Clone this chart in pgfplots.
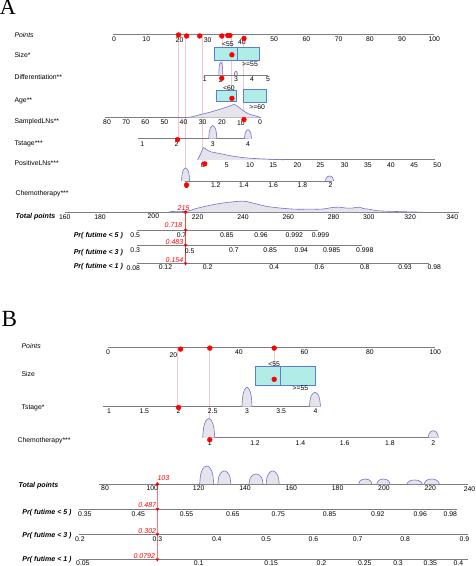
\documentclass[border=0pt]{standalone}
\usepackage{pgfplots}
\pgfplotsset{compat=1.18}
\usepackage{fontspec}
\setmainfont{Liberation Sans}
\newfontfamily\seriffont{Liberation Serif}
\definecolor{axgray}{RGB}{125,125,125}
\definecolor{dens}{RGB}{115,115,210}
\definecolor{densfill}{RGB}{228,228,234}
\definecolor{boxfill}{RGB}{178,236,230}
\definecolor{boxline}{RGB}{90,125,215}
\definecolor{pinkline}{RGB}{240,200,205}
\tikzset{
  tk/.style={font=\fontsize{6.8}{7}\selectfont, inner sep=0pt, anchor=center},
  axl/.style={axgray, line width=0.8pt},
  dn/.style={draw=dens, fill=densfill, line width=0.6pt, smooth},
  bx/.style={draw=boxline, fill=boxfill, line width=0.7pt},
  pl/.style={pinkline, line width=0.5pt},
}
\pgfplotsset{
  rd/.style={only marks, mark=*, mark size=2.4pt, red, mark options={draw=red, fill=red}},
  rt/.style={only marks, mark=triangle*, mark size=1.6pt, red, mark options={rotate=180, fill=red}},
}
\newcommand\TK[3]{\node[tk] at (axis cs:#1,#2) {#3};}
\newcommand\LB[3]{\node[tk,anchor=west] at (axis cs:#1,#2) {#3};}
\newcommand\RB[3]{\node[tk,anchor=east,font=\fontsize{7}{8}\selectfont\bfseries\itshape] at (axis cs:#1,#2) {#3};}
\newcommand\RT[3]{\node[tk,text=red,font=\fontsize{7}{8}\selectfont\itshape] at (axis cs:#1,#2) {#3};}
\begin{document}
\begin{tikzpicture}
\begin{axis}[scale only axis, width=474pt, height=566pt,
  xmin=0, xmax=474, ymin=0, ymax=566, y dir=reverse, hide axis, clip=false]
% ================= Panel A =================
\node[font=\seriffont\fontsize{22}{22}\selectfont, inner sep=0pt, anchor=base west] at (axis cs:0.5,17.8) {A};
\addplot[pl] coordinates {(178,38)(178,142)};
\addplot[pl] coordinates {(185,38)(185,187)};
\addplot[pl] coordinates {(202,38)(202,166)};
\addplot[pl] coordinates {(242,38)(242,122)};
\addplot[pl] coordinates {(221,38)(221,81)};
\addplot[pl] coordinates {(230,38)(230,101)};
\addplot[axl] coordinates {(113,37.7)(432,37.7)};
\addplot[axl] coordinates {(203,77.7)(267,77.7)};
\addplot[axl] coordinates {(105,120)(260,120)};
\addplot[axl] coordinates {(138,141)(248,141)};
\addplot[axl] coordinates {(200,162)(433,162)};
\addplot[axl] coordinates {(184,183)(330,183)};
\addplot[axl] coordinates {(65,214)(457,214)};
\addplot[axl] coordinates {(137,232)(317,232)};
\addplot[axl] coordinates {(137,247)(360,247)};
\addplot[axl] coordinates {(137,265)(427,265)};
\addplot[bx] coordinates {(214,50.7)(236,50.7)(236,63.3)(214,63.3)} -- cycle;
\addplot[bx] coordinates {(236,50.7)(258,50.7)(258,63.3)(236,63.3)} -- cycle;
\addplot[bx] coordinates {(216,93)(235,93)(235,104)(216,104)} -- cycle;
\addplot[bx] coordinates {(242,92)(265,92)(265,105)(242,105)} -- cycle;
\addplot[dn] coordinates {(218,77.7)(218.3,70.7)(219,66.6)(220,65)(221,66.6)(221.7,70.7)(222,77.7)};
\addplot[dn] coordinates {(233.5,77.7)(233.7,75.7)(234.25,74.5)(235,74)(235.75,74.5)(236.3,75.7)(236.5,77.7)};
\addplot[dn] coordinates {(183,120)(190,119.5)(200,117)(210,114.5)(220,111.5)(228,109)(233,107)(237,109)(242,113)(248,116.5)(255,118.5)(260,120)};
\addplot[dn] coordinates {(208,141)(208.6,133.85)(210,129.7)(212,128)(214,129.7)(215.4,133.85)(216,141)};
\addplot[dn] coordinates {(243.5,141)(244.1,136.05)(245.25,133.2)(247,132)(248.75,133.2)(249.9,136.05)(250.5,141)};
\addplot[dn] coordinates {(197,162)(200,156)(203,150)(206,152)(210,154)(215,155)(220,156)(230,158)(240,159.5)(250,160.5)(265,161.3)(283,162)};
\addplot[dn] coordinates {(181,183)(181.6,175.85)(183,171.7)(185,170)(187,171.7)(188.4,175.85)(189,183)};
\addplot[dn] coordinates {(324,183)(324.6,180.25)(326,178.65)(328,178)(330,178.65)(331.4,180.25)(332,183)};
\addplot[dn] coordinates {(168,214)(172,213.3)(176,213.5)(187,213)(195,210.5)(210,207)(225,204.5)(242,203)(250,204.5)(260,207)(267,208.5)(280,210)(293,211)(310,211)(320,211)(330,209.5)(337,209)(345,210)(350,210)(357,209)(362,210.5)(367,211)(375,212.5)(385,213)(400,213.5)(420,214)};
\addplot[red!75, line width=0.6pt] coordinates {(185,214)(185,265)};
\addplot[rd] coordinates {(178,38)(186,39)(199,39)(221,39)(227,38.5)(229,38.5)(243,41.5)};
\addplot[rd] coordinates {(231,57.7)(221,81)(231,101)(243,122)(177,142)(204,166)(186,187)};
\addplot[rd, mark size=1.6pt] coordinates {(185,214)};
\addplot[rt] coordinates {(185,232)(185,247)(185,265)};
\node[tk,anchor=west,font=\fontsize{6.8}{7}\selectfont\itshape] at (axis cs:15,38) {Points};
\LB{15}{57.7}{Size*}
\LB{15}{80}{Differentiation**}
\LB{15}{103}{Age**}
\LB{15}{124}{SampledLNs**}
\LB{15}{146}{Tstage***}
\LB{15}{165}{PositiveLNs***}
\LB{16}{196}{Chemotherapy***}
\node[tk,anchor=west,font=\fontsize{7}{8}\selectfont\bfseries\itshape] at (axis cs:16,218) {Total points};
\RB{123}{237}{Pr( futime < 5 )}
\RB{123}{254}{Pr( futime < 3 )}
\RB{123}{268}{Pr( futime < 1 )}
\TK{114}{42.5}{0}\TK{146}{42.5}{10}\TK{179}{43.5}{20}\TK{207}{43}{30}\TK{241}{45.5}{40}
\TK{273}{42.5}{50}\TK{305}{42.5}{60}\TK{337}{42.5}{70}\TK{368}{42.5}{80}\TK{400}{42.5}{90}\TK{432}{42.5}{100}
\TK{227}{47.5}{<55}\TK{249}{67}{>=55}
\TK{204}{82}{1}\TK{220}{83}{2}\TK{235}{82}{3}\TK{251}{82}{4}\TK{267}{82}{5}
\TK{228}{90.5}{<60}\TK{256}{109.5}{>=60}
\TK{107}{125}{80}\TK{126}{125}{70}\TK{145}{125}{60}\TK{164}{125}{50}\TK{183}{125}{40}
\TK{202}{125}{30}\TK{221}{125}{20}\TK{240}{125.5}{10}\TK{259}{125}{0}
\TK{142}{146}{1}\TK{176}{146}{2}\TK{212}{146}{3}\TK{247}{146}{4}
\TK{202}{167.5}{0}\TK{226}{167}{5}\TK{249}{167}{10}\TK{272}{167}{15}\TK{296}{167}{20}\TK{319}{167}{25}
\TK{343}{167}{30}\TK{366}{167}{35}\TK{389}{167}{40}\TK{412}{167}{45}\TK{435}{167}{50}
\TK{186}{188}{1}\TK{215}{187.5}{1.2}\TK{243}{187.5}{1.4}\TK{272}{187.5}{1.6}\TK{301}{187.5}{1.8}\TK{329}{187.5}{2}
\TK{65}{218.5}{160}\TK{100}{218.5}{180}\TK{153}{218}{200}\TK{197}{218.5}{220}\TK{242}{218.5}{240}
\TK{287}{218.5}{260}\TK{332}{218.5}{280}\TK{367}{218.5}{300}\TK{408}{218.5}{320}\TK{450}{218.5}{340}
\TK{135}{237}{0.5}\TK{181}{237}{0.7}\TK{226}{236.5}{0.85}\TK{260}{236.5}{0.96}\TK{293}{236.5}{0.992}\TK{319}{236.5}{0.999}
\TK{135}{252}{0.3}\TK{189}{252.5}{0.5}\TK{233}{252}{0.7}\TK{269}{252}{0.85}\TK{300}{252}{0.94}\TK{330}{252}{0.985}\TK{363}{252}{0.998}
\TK{133}{269.5}{0.08}\TK{165}{269}{0.12}\TK{207}{269}{0.2}\TK{273}{269}{0.4}\TK{318}{269}{0.6}\TK{363}{269}{0.8}\TK{403}{269}{0.93}\TK{432}{269}{0.98}
\RT{183}{210}{215}\RT{173}{226.5}{0.718}\RT{174}{244}{0.483}\RT{174}{261.5}{0.154}
% ================= Panel B =================
\node[font=\seriffont\fontsize{23}{23}\selectfont, inner sep=0pt, anchor=base west] at (axis cs:2,328) {B};
\addplot[pl] coordinates {(177,348)(177,408)};
\addplot[pl] coordinates {(209,349)(209,440)};
\addplot[pl] coordinates {(273,349)(273,380)};
\addplot[axl] coordinates {(108,348)(433,348)};
\addplot[axl] coordinates {(103,407)(319,407)};
\addplot[axl] coordinates {(208,438)(435,438)};
\addplot[axl] coordinates {(99,484)(465,484)};
\addplot[axl] coordinates {(79,509)(455,509)};
\addplot[axl] coordinates {(79,534)(465,534)};
\addplot[axl] coordinates {(79,559)(465,559)};
\addplot[bx] coordinates {(254,367)(279,367)(279,386)(254,386)} -- cycle;
\addplot[bx] coordinates {(279,367)(314,367)(314,386)(279,386)} -- cycle;
\addplot[dn] coordinates {(241,407)(241.8,396.5)(243.5,390.5)(246,388)(248.5,390.5)(250.2,396.5)(251,407)};
\addplot[dn] coordinates {(308,407)(308.9,399.3)(310.75,394.8)(313.5,393)(316.25,394.8)(318.1,399.3)(319,407)};
\addplot[dn] coordinates {(202,438)(203,427.5)(205,421.5)(208,419)(211,421.5)(213,427.5)(214,438)};
\addplot[dn] coordinates {(426,438)(426.8,434.2)(428.5,431.9)(431,431)(433.5,431.9)(435.2,434.2)(436,438)};
\addplot[dn] coordinates {(199,484)(200.1,474.1)(202.5,468.3)(206,466)(209.5,468.3)(211.9,474.1)(213,484)};
\addplot[dn] coordinates {(217,484)(218,476.85)(220.25,472.7)(223.5,471)(226.75,472.7)(229,476.85)(230,484)};
\addplot[dn] coordinates {(248,484)(249.1,478.5)(251.5,475.3)(255,474)(258.5,475.3)(260.9,478.5)(262,484)};
\addplot[dn] coordinates {(265,484)(266,476.85)(268.25,472.7)(271.5,471)(274.75,472.7)(277,476.85)(278,484)};
\addplot[dn] coordinates {(357,484)(358,481.25)(360.25,479.65)(363.5,479)(366.75,479.65)(369,481.25)(370,484)};
\addplot[dn] coordinates {(375,484)(376,481.25)(378.25,479.65)(381.5,479)(384.75,479.65)(387,481.25)(388,484)};
\addplot[dn] coordinates {(405,484)(406.2,481.8)(408.75,480.5)(412.5,480)(416.25,480.5)(418.8,481.8)(420,484)};
\addplot[dn] coordinates {(422,484)(423.2,481.25)(425.75,479.65)(429.5,479)(433.25,479.65)(435.8,481.25)(437,484)};
\addplot[red!55, line width=1.3pt] coordinates {(157,484)(157,559)};
\addplot[rd] coordinates {(180,350)(209,349)(273,349)(273,380)(178,408)(209,440)};
\addplot[rd, mark size=1.6pt] coordinates {(157,484)};
\addplot[rt] coordinates {(157,509)(157,534)(157,559)};
\node[tk,anchor=west,font=\fontsize{6.8}{7}\selectfont\itshape] at (axis cs:22,347) {Points};
\LB{22}{375}{Size}
\LB{22}{408}{Tstage*}
\LB{18}{441}{Chemotherapy***}
\node[tk,anchor=west,font=\fontsize{7}{8}\selectfont\bfseries\itshape] at (axis cs:19,486) {Total points};
\RB{72}{512}{Pr( futime < 5 )}
\RB{72}{535}{Pr( futime < 3 )}
\RB{72}{559}{Pr( futime < 1 )}
\TK{108}{353}{0}\TK{173}{356}{20}\TK{238}{353}{40}\TK{303}{353}{60}\TK{368}{353}{80}\TK{433}{353}{100}
\TK{273}{365}{<55}\TK{299}{389}{>=55}
\TK{109}{412}{1}\TK{144}{412}{1.5}\TK{178}{412}{2}\TK{212}{412}{2.5}\TK{246}{412}{3}\TK{280}{412}{3.5}\TK{314}{412}{4}
\TK{209}{443}{1}\TK{254}{443}{1.2}\TK{299}{443}{1.4}\TK{343}{443}{1.6}\TK{388}{443}{1.8}\TK{431}{443}{2}
\TK{105}{488}{80}\TK{152}{488}{100}\TK{198}{488}{120}\TK{244}{488}{140}\TK{290}{488}{160}\TK{336}{488}{180}\TK{382}{488}{200}\TK{428}{488}{220}\TK{467}{489.5}{240}
\TK{85}{514}{0.35}\TK{138}{514}{0.45}\TK{186}{514}{0.55}\TK{232}{514}{0.65}\TK{277}{514}{0.75}\TK{328}{514}{0.85}\TK{376}{514}{0.92}\TK{418}{514}{0.96}\TK{448}{514}{0.98}
\TK{80}{539}{0.2}\TK{157}{539}{0.3}\TK{216}{539}{0.4}\TK{265}{539}{0.5}\TK{312}{539}{0.6}\TK{356}{539}{0.7}\TK{403}{539}{0.8}\TK{462}{539}{0.9}
\TK{83}{563}{0.05}\TK{198}{563}{0.1}\TK{270}{563}{0.15}\TK{320}{563}{0.2}\TK{363}{563}{0.25}\TK{396}{563}{0.3}\TK{428}{563}{0.35}\TK{456}{563}{0.4}
\RT{163}{478}{103}\RT{147}{505}{0.487}\RT{147}{531}{0.302}\RT{144}{556}{0.0792}
\end{axis}
\end{tikzpicture}
\end{document}
